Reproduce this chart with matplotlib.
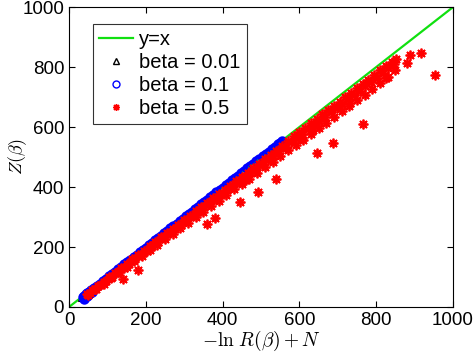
import matplotlib
matplotlib.use("Agg")
import matplotlib.pyplot as plt

plt.rcParams['font.family'] = ['Liberation Sans', 'DejaVu Sans']
plt.rcParams['mathtext.fontset'] = 'cm'

# beta = 0.01 (mostly hidden under the other series)
b001_x = [32, 38, 44, 50, 58, 66, 75, 85, 95, 106, 118, 130]
b001_y = [31, 37, 43, 49, 57, 65, 74, 84, 94, 105, 117, 129]

# beta = 0.1
b01_x = [36, 40, 44, 48, 52, 58, 64, 72, 80, 88, 96, 104, 112, 120, 128, 136, 144,
         152, 160, 168, 176, 184, 192, 200, 208, 216, 224, 232, 240, 248, 256, 264,
         272, 280, 288, 296, 304, 312, 320, 328, 336, 344, 352, 360, 368, 376, 384,
         392, 400, 408, 416, 424, 432, 440, 448, 456, 464, 472, 480, 488, 496, 504,
         512, 520, 528, 536, 544, 550, 555]
b01_y = [34, 38, 42, 46, 50, 56, 62, 70, 78, 86, 94, 102, 110, 118, 126, 134, 142,
         150, 158, 166, 174, 182, 190, 198, 206, 214, 222, 230, 238, 246, 254, 262,
         270, 278, 286, 294, 302, 310, 318, 326, 334, 342, 350, 358, 366, 374, 382,
         390, 398, 406, 414, 422, 430, 438, 446, 454, 462, 470, 478, 486, 494, 502,
         510, 518, 526, 534, 542, 548, 553]
b01_x2 = [38, 42, 46, 50, 55, 60]
b01_y2 = [28, 32, 36, 41, 46, 51]

# beta = 0.5 : main band (three rows) + outliers
b05_up_x = [48, 60, 75, 90, 105, 120, 135, 150, 165, 180, 195, 210, 225, 240, 255,
            270, 285, 300, 315, 330, 345, 360, 375, 390, 405, 420, 435, 450, 465,
            480, 495, 510, 525, 540, 555, 570, 585, 600, 615, 630, 645, 660, 675,
            690, 705, 720, 735, 750, 765, 780, 795, 810, 825, 840, 852]
b05_up_y = [44, 56, 71, 85, 100, 115, 130, 144, 159, 174, 188, 203, 217, 232, 246,
            261, 275, 290, 304, 319, 333, 348, 362, 377, 391, 405, 420, 434, 448,
            463, 477, 492, 506, 521, 537, 554, 569, 584, 598, 613, 627, 642, 656,
            671, 685, 700, 714, 729, 743, 758, 773, 789, 803, 817, 828]
b05_mid_x = [55, 68, 82, 97, 112, 127, 142, 157, 172, 187, 202, 217, 232, 247, 262,
             277, 292, 307, 322, 337, 352, 367, 382, 397, 412, 427, 442, 457, 472,
             487, 502, 517, 532, 547, 562, 577, 592, 607, 622, 637, 652, 667, 682,
             697, 712, 727, 742, 757, 772, 787, 802, 817, 832, 846]
b05_mid_y = [46, 59, 72, 87, 101, 116, 130, 145, 159, 174, 188, 203, 217, 232, 246,
             260, 275, 289, 304, 318, 332, 347, 361, 375, 390, 404, 418, 433, 447,
             461, 476, 490, 505, 520, 535, 549, 563, 578, 592, 606, 621, 635, 650,
             664, 678, 693, 707, 722, 736, 751, 765, 780, 796, 812]
b05_lo_x = [50, 70, 90, 110, 130, 150, 170, 190, 210, 230, 250, 270, 290, 310, 330,
            350, 370, 390, 410, 430, 450, 470, 490, 510, 530, 550, 570, 590, 610,
            630, 650, 670, 690, 710, 730, 750, 770, 790, 810, 830, 850]
b05_lo_y = [40, 60, 78, 98, 116, 134, 153, 171, 190, 208, 226, 245, 262, 281, 300,
            318, 336, 355, 372, 392, 410, 428, 446, 466, 484, 502, 522, 540, 558,
            578, 596, 614, 634, 652, 670, 690, 708, 728, 748, 766, 790]
b05_out_x = [141, 180, 360, 381, 446, 459, 491, 538, 608, 635, 645, 687, 731, 765,
             825, 880, 888, 916, 953]
b05_out_y = [93, 123, 276, 296, 349, 425, 385, 428, 565, 590, 512, 548, 680, 611,
             764, 814, 840, 847, 774]

ref_x = [0, 1000]
ref_y = [0, 1000]
ticks = [0, 200, 400, 600, 800, 1000]

fig = plt.figure(figsize=(4.74, 3.54), dpi=100)
ax = fig.add_axes([0.1456, 0.1328, 0.81, 0.847])

green = '#10e010'
star = (8, 2, 0)
ax.plot(ref_x, ref_y, color=green, lw=1.6, label='y=x', zorder=1)
ax.plot(b001_x, b001_y, '^', mfc='none', mec='black', ms=4, mew=0.8,
        label='beta = 0.01', zorder=2)
ax.plot(b01_x, b01_y, 'o', mfc='none', mec='blue', ms=5.5, mew=2,
        label='beta = 0.1', zorder=3)
ax.plot(b01_x2, b01_y2, 'o', mfc='none', mec='blue', ms=5.5, mew=2, zorder=3)
ax.plot(b05_up_x, b05_up_y, marker=star, ls='none', color='red', ms=7, mew=1.3,
        label='beta = 0.5', zorder=4)
ax.plot(b05_mid_x, b05_mid_y, marker=star, ls='none', color='red', ms=7, mew=1.3,
        zorder=4)
ax.plot(b05_lo_x, b05_lo_y, marker=star, ls='none', color='red', ms=7, mew=1.3,
        zorder=4)
ax.plot(b05_out_x, b05_out_y, marker=star, ls='none', color='red', ms=7, mew=1.3,
        zorder=4)

ax.set_xlim(0, 1000)
ax.set_ylim(0, 1000)
ax.set_xticks(ticks)
ax.set_yticks(ticks)
ax.tick_params(direction='in', top=True, right=True, labelsize=13.5, length=4)
ax.set_xlabel(r'$-\ln\, R(\beta)+N$', fontsize=14, labelpad=0)
ax.set_ylabel(r'$Z(\beta)$', fontsize=13)
ax.yaxis.set_label_coords(-0.105, 0.5)

leg = ax.legend(loc='upper left', bbox_to_anchor=(0.0625, 0.943), fontsize=14.5,
                frameon=True, fancybox=False, edgecolor='black', handlelength=1.7,
                borderpad=0.3, labelspacing=0.2, handletextpad=0.3,
                borderaxespad=0)
leg.get_frame().set_linewidth(0.8)
for h in leg.legend_handles[1:]:
    h.set_markersize(5)
    h.set_markeredgewidth(1)

fig.savefig('out.png', dpi=100)
